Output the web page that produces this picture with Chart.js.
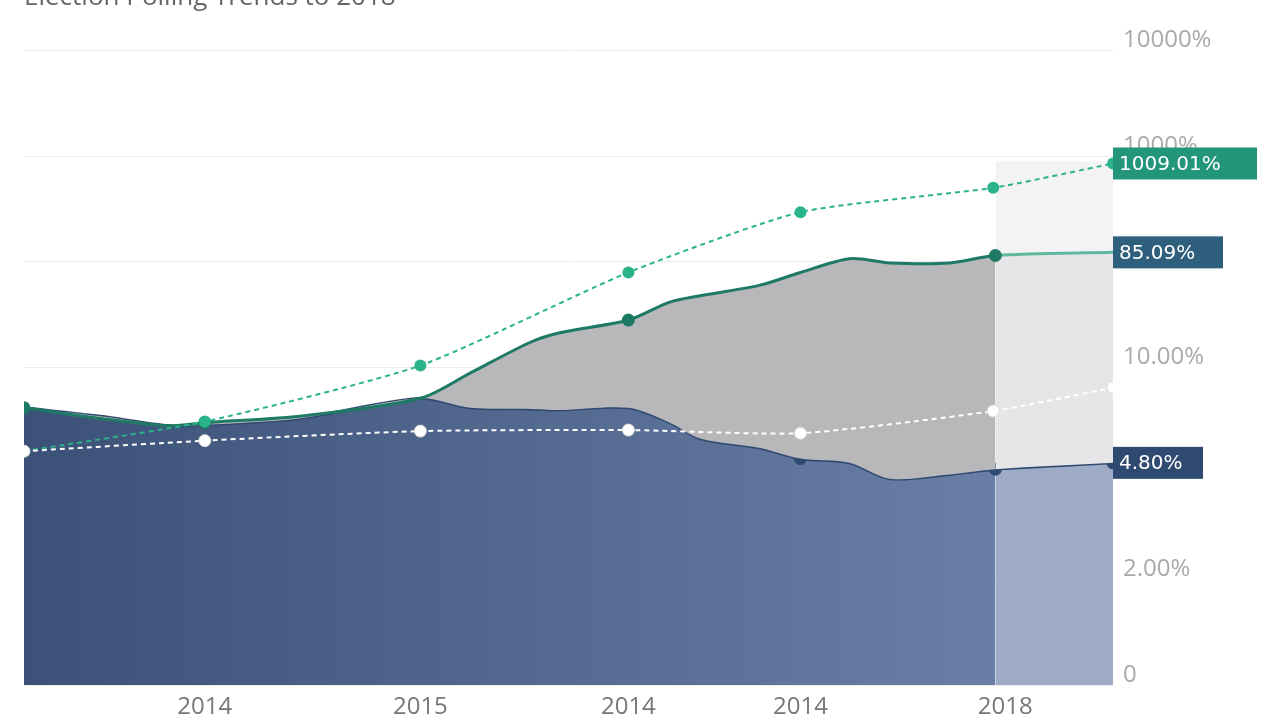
<!DOCTYPE html>
<html>
<head>
<meta charset="utf-8">
<script src="https://cdn.jsdelivr.net/npm/chart.js@4.4.0/dist/chart.umd.min.js"></script>
<style>
  html, body { margin: 0; padding: 0; background: #fff; }
  #wrap { width: 1280px; height: 720px; }
</style>
</head>
<body>
<div id="wrap"><canvas id="chart" width="1280" height="720"></canvas></div>
<script>
// titre et étiquettes
const chartTitle = "Election Polling Trends to 2018";
const xTickPos = [16.6, 36.4, 55.5, 71.3, 90.1];
const xTickLabels = ["2014", "2015", "2014", "2014", "2018"];
const yTickLabels = { 0: "0", 100: "2.00%", 300: "10.00%", 500: "1000%", 600: "10000%" };

// séries pleines (même grille x)
const areaX = [0, 7, 13.4, 16.6, 25.3, 36.4, 41, 46.5, 49.2, 55.5, 59.3, 62.1, 67.6, 71.3, 75.8, 79.5, 85, 89.2, 100];
const navyValues = [262, 254, 245, 246, 252, 271, 262, 261, 260, 262, 248, 233, 224, 214, 210, 195, 199, 204, 210];
const greenValues = [262, 252, 245, 248, 254, 271, 295, 324, 333, 345, 362, 368, 378, 390, 403, 399, 399, 406, 409];

// séries pointillées
const dashX = [0, 16.6, 36.4, 55.5, 71.3, 89, 100];
const dashGreen = [221, 249, 302, 390, 447, 470, 493];
const dashWhite = [221, 231, 240, 241, 238, 259, 281];

// zone de projection
const forecastStart = 89.2;
const forecastTop = 495;

// étiquettes à droite
const endLabels = [
  { text: "1009.01%", value: 493, color: "#23957a", width: 144 },
  { text: "85.09%", value: 409, color: "#2e5f7c", width: 110 },
  { text: "4.80%", value: 210, color: "#2f4a70", width: 90 }
];

const pts = (xs, ys) => xs.map((x, i) => ({ x: x, y: ys[i] }));
const isForecast = c => c.p0.parsed.x >= forecastStart - 0.01;

function navyGradient(context) {
  const area = context.chart.chartArea;
  if (!area) return '#4a6189';
  const g = context.chart.ctx.createLinearGradient(area.left, 0, area.right, 0);
  g.addColorStop(0, '#3c5178');
  g.addColorStop(1, '#6f84ab');
  return g;
}

const labelPlugin = {
  id: 'labels',
  afterDraw(chart) {
    const ctx = chart.ctx;
    const y = chart.scales.y;
    const x = chart.scales.x;
    ctx.save();
    ctx.fillStyle = '#666';
    ctx.font = '26px "Open Sans", sans-serif';
    ctx.textBaseline = 'alphabetic';
    ctx.fillText(chartTitle, 24, 5);
    endLabels.forEach(l => {
      const py = y.getPixelForValue(l.value);
      ctx.fillStyle = l.color;
      ctx.fillRect(x.right, py - 16, l.width, 32);
      ctx.fillStyle = '#fff';
      ctx.font = '20px "DejaVu Sans", sans-serif';
      ctx.textBaseline = 'middle';
      ctx.fillText(l.text, x.right + 6, py + 1);
    });
    ctx.restore();
  }
};

new Chart(document.getElementById('chart').getContext('2d'), {
  type: 'line',
  data: {
    datasets: [
      {
        label: 'navy',
        data: pts(areaX, navyValues),
        borderColor: '#2f4a70',
        borderWidth: 3,
        backgroundColor: navyGradient,
        fill: 'origin',
        tension: 0.3,
        pointRadius: c => [13, 17, 18].includes(c.dataIndex) ? 5 : 0,
        pointBackgroundColor: '#2f4a70',
        segment: { backgroundColor: c => isForecast(c) ? '#9eabc6' : undefined },
        order: 3
      },
      {
        label: 'green',
        data: pts(areaX, greenValues),
        borderColor: '#1e7a64',
        borderWidth: 3,
        backgroundColor: '#b8b8ba',
        fill: '-1',
        tension: 0.3,
        pointRadius: c => [0, 3, 9, 17].includes(c.dataIndex) ? 5 : 0,
        pointBackgroundColor: '#1e7a64',
        segment: {
          backgroundColor: c => isForecast(c) ? '#e6e6e8' : undefined,
          borderColor: c => isForecast(c) ? '#5fb8a0' : undefined
        },
        order: 2
      },
      {
        label: 'forecast',
        data: [{ x: forecastStart, y: forecastTop }, { x: 100, y: forecastTop }],
        borderWidth: 0,
        backgroundColor: '#f3f3f4',
        fill: 'origin',
        pointRadius: 0,
        order: 5
      },
      {
        label: 'dashGreen',
        data: pts(dashX, dashGreen),
        borderColor: '#2bb38a',
        borderWidth: 2,
        borderDash: [5, 4],
        fill: false,
        tension: 0.2,
        pointRadius: 6,
        pointBackgroundColor: '#2bb38a',
        pointBorderWidth: 0,
        order: 1
      },
      {
        label: 'dashWhite',
        data: pts(dashX, dashWhite),
        borderColor: '#ffffff',
        borderWidth: 2,
        borderDash: [5, 4],
        fill: false,
        tension: 0.2,
        pointRadius: 6,
        pointBackgroundColor: '#ffffff',
        pointBorderColor: '#dddddd',
        pointBorderWidth: 1,
        order: 0
      }
    ]
  },
  options: {
    responsive: false,
    animation: false,
    layout: { padding: { top: 45, left: 24, right: 0, bottom: 0 } },
    plugins: { legend: { display: false }, tooltip: { enabled: false } },
    scales: {
      x: {
        type: 'linear',
        min: 0,
        max: 100,
        afterBuildTicks: axis => { axis.ticks = xTickPos.map(v => ({ value: v })); },
        ticks: {
          callback: (v, i) => xTickLabels[i],
          color: '#777',
          font: { size: 24, family: 'Open Sans' },
          autoSkip: false,
          maxRotation: 0,
          padding: 0
        },
        grid: { display: false },
        border: { display: false },
        afterFit: axis => { axis.height = 35; }
      },
      y: {
        position: 'right',
        min: 0,
        max: 605,
        afterBuildTicks: axis => { axis.ticks = [0, 100, 200, 300, 400, 500, 600].map(v => ({ value: v })); },
        ticks: {
          callback: v => yTickLabels[v] || '',
          color: '#aaa',
          font: { size: 24, family: 'Open Sans' },
          padding: 10,
          labelOffset: -10
        },
        grid: { color: '#ececec', drawTicks: false },
        border: { display: false },
        afterFit: axis => { axis.width = 167; }
      }
    }
  },
  plugins: [labelPlugin]
});
</script>
</body>
</html>
